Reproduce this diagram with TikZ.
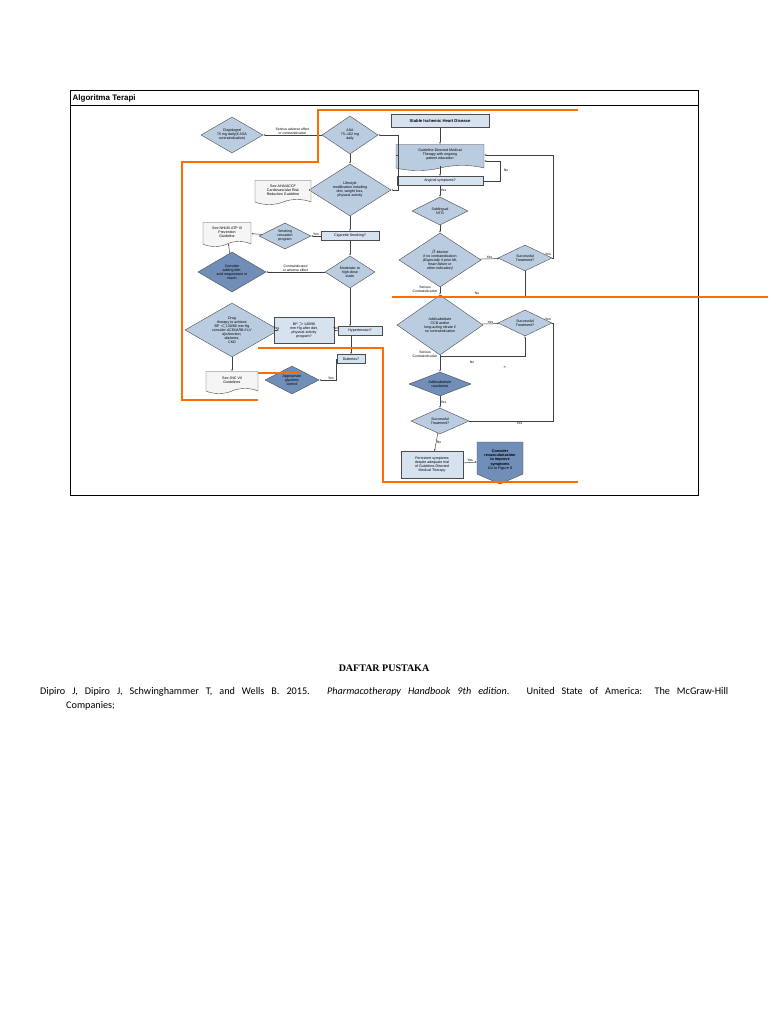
\documentclass[tikz,border=0pt]{standalone}
\usepackage{fontspec}
\setmainfont{Liberation Sans}
\newfontfamily\carl{Carlito}
\newfontfamily\serifb{Liberation Serif}
\usetikzlibrary{shapes.geometric,shapes.symbols,arrows.meta}
\definecolor{lblue}{RGB}{186,204,224}
\definecolor{dblue}{RGB}{112,142,184}
\definecolor{pbox}{RGB}{214,226,240}
\begin{document}
\begin{tikzpicture}[x=1pt,y=-1pt,
  every node/.style={font=\fontsize{3.6}{4}\selectfont,align=center,inner sep=0.5pt},
  dia/.style={diamond,draw=black!70,fill=lblue,line width=0.4pt,aspect=#1,inner sep=0pt},
  dia/.default=1.6,
  ddia/.style={dia=#1,fill=dblue},
  ddia/.default=1.6,
  box/.style={rectangle,draw=black!70,fill=pbox,line width=0.4pt},
  doc/.style={tape,tape bend top=none,draw=black!70,fill=gray!8,line width=0.4pt},
  ln/.style={draw=black!75,line width=0.5pt,-{Latex[length=2pt,width=1.6pt]}},
  pl/.style={draw=black!75,line width=0.5pt},
  lab/.style={font=\fontsize{3.4}{3.8}\selectfont},
  org/.style={draw=orange!85!red,line width=1.1pt}]
\useasboundingbox (0,0) rectangle (768,1024);
\fill[white] (0,0) rectangle (768,1024);
% frame
\draw[line width=0.8pt] (70,90) rectangle (698,495);
\draw[line width=0.8pt] (70,105) -- (698,105);
\node[anchor=west,font=\bfseries\fontsize{8}{9}\selectfont] at (72,98) {Algoritma Terapi};

% nodes
\node[box,font=\bfseries\fontsize{4.2}{5}\selectfont,minimum width=98pt,minimum height=13pt] (sihd) at (440,121) {Stable Ischemic Heart Disease};
\node[doc,minimum width=88pt,minimum height=26pt,fill=lblue] (gdmt) at (440,155) {Guideline-Directed Medical\\Therapy with ongoing\\patient education};
\node[box,minimum width=86pt,minimum height=9pt] (ang) at (440,181) {Anginal symptoms?};
\node[dia=2,minimum width=56pt,minimum height=28pt] (ntg) at (440,211) {Sublingual\\NTG};
\node[dia=1.6,minimum width=82pt,minimum height=54pt] (bb) at (440,260) {$\beta$-blocker\\if no contraindication\\\textit{(Especially if prior MI,}\\\textit{heart failure or}\\\textit{other indication)}};
\node[dia=2.1,minimum width=54pt,minimum height=26pt] (s1) at (525,258) {Successful\\Treatment?};
\node[dia=1.5,minimum width=86pt,minimum height=60pt] (ccb) at (440,325) {Add/substitute\\CCB and/or\\long-acting nitrate if\\no contraindication};
\node[dia=2.1,minimum width=54pt,minimum height=26pt] (s2) at (525,323) {Successful\\Treatment?};
\node[ddia=2.6,minimum width=62pt,minimum height=24pt] (ran) at (440,384) {Add/substitute\\ranolazine};
\node[dia=2.2,minimum width=58pt,minimum height=26pt] (s3) at (440,421) {Successful\\Treatment?};
\node[box,minimum width=62pt,minimum height=27pt] (pers) at (432,465) {Persistent symptoms\\despite adequate trial\\of Guideline-Directed\\Medical Therapy};
\fill[dblue,draw=black!70,line width=0.4pt] (477,442) -- (523,442) -- (523,474) -- (500,484) -- (477,474) -- cycle;
\node[font=\bfseries\fontsize{3.8}{4.3}\selectfont] (rev) at (500,460) {Consider\\revascularization\\to improve\\symptoms\\\mdseries\textit{Go to Figure 8}};
\coordinate (revw) at (477,462);

\node[dia=1.5,minimum width=56pt,minimum height=38pt] (asa) at (350,135) {ASA\\75--162 mg\\daily};
\node[dia=1.8,minimum width=62pt,minimum height=36pt] (clop) at (232,135) {Clopidogrel\\75 mg daily(if ASA\\contraindication)};
\node[dia=1.6,minimum width=82pt,minimum height=52pt] (life) at (350,190) {Lifestyle\\modification including\\diet, weight loss,\\physical activity};
\node[doc,minimum width=56pt,minimum height=24pt] (aha) at (283,190) {See AHA/ACCF\\Cardiovascular Risk\\Reduction Guideline};
\node[box,minimum width=58pt,minimum height=9pt] (cig) at (350,236) {Cigarette Smoking?};
\node[dia=1.9,minimum width=52pt,minimum height=26pt] (smk) at (285,236) {Smoking\\cessation\\program};
\node[doc,minimum width=48pt,minimum height=24pt] (nhl) at (227,232) {See NHLBI ATP III\\Prevention\\Guideline};
\node[dia=1.6,minimum width=50pt,minimum height=32pt] (stat) at (350,272) {Moderate- to\\high-dose\\statin};
\node[ddia=1.7,minimum width=68pt,minimum height=40pt] (bile) at (232,272) {Consider\\adding bile-\\acid sequestrant or\\niacin};
\node[dia=1.7,minimum width=94pt,minimum height=54pt] (drug) at (232,330) {Drug\\therapy to achieve\\BP $<$130/80 mm Hg\\\textit{consider ACEI/ARB if LV}\\\textit{dysfunction,}\\\textit{diabetes,}\\\textit{CKD}};
\node[box,minimum width=60pt,minimum height=26pt] (bp) at (304,330) {BP $>$140/90\\mm Hg after diet,\\physical activity\\program?};
\node[box,minimum width=44pt,minimum height=9pt] (hyp) at (360,331) {Hypertension?};
\node[box,minimum width=28pt,minimum height=9pt] (dia) at (351,359) {Diabetes?};
\node[doc,minimum width=52pt,minimum height=22pt] (jnc) at (232,380) {See JNC VII\\Guidelines};
\node[ddia=1.9,minimum width=54pt,minimum height=28pt] (gly) at (292,380) {Appropriate\\glycemic\\control};

% right side connectors
\draw[ln] (sihd) -- (gdmt);
\draw[ln] (gdmt.south) -- (ang);
\draw[ln] (ang.east) -- (500,181) -- (500,161) -- (gdmt.east |- 0,161);
\node[lab] at (506,170) {No};
\draw[ln] (ang) -- node[lab,right,pos=0.4]{Yes} (ntg);
\draw[ln] (ntg) -- (bb);
\draw[ln] (bb) -- node[lab,above]{Yes} (s1);
\draw[ln] (s1.east) -- (553,258) -- (553,155) -- (gdmt.east |- 0,155);
\node[lab] at (548,254) {Yes};
\draw[ln] (s1.south) -- (525,296) -- (440,296);
\node[lab] at (477,293.5) {No};
\node[lab,anchor=east] at (438,289) {Serious\\Contraindication};
\draw[ln] (bb) -- (ccb);
\draw[ln] (ccb) -- node[lab,above]{Yes} (s2);
\draw[pl] (s2.east) -- (553,323);
\node[lab] at (548,319) {Yes};
\draw[ln] (440,356) -- (525,356) -- (s2.south);
\node[lab] at (472,362) {No};
\node[lab,anchor=east] at (438,354) {Serious\\Contraindication};
\draw[ln] (ccb) -- (ran);
\draw[ln] (ran) -- node[lab,right]{Yes} (s3);
\draw[pl] (s3.east) -- node[lab,below,pos=0.6]{Yes} (553,421) -- (553,323);
\draw[ln] (s3) -- node[lab,right]{No} (pers);
\draw[ln] (pers) -- node[lab,above]{Yes} (revw);
\node[text=red,font=\fontsize{5}{5}\selectfont] (star) at (505,367) {$\ast$};

% left side connectors
\draw[pl] (gdmt.west) -- (398,155);
\draw[ln] (398,135) -- (asa.east);
\draw[ln] (398,135) -- (398,190) -- (life.east);
\draw[ln] (asa) -- node[lab,above]{Serious adverse effect\\or contraindication} (clop);
\draw[ln] (asa) -- (life);
\draw[ln] (life) -- (aha);
\draw[ln] (life) -- (cig);
\draw[ln] (cig) -- node[lab,above]{Yes} (smk);
\draw[ln] (smk) -- (nhl);
\draw[ln] (cig) -- (stat);
\draw[ln] (stat) -- node[lab,above]{Contraindicated\\or adverse effect} (bile);
\draw[ln] (bile) -- (nhl);
\draw[ln] (stat.south) -- (stat.south |- hyp.north);
\draw[ln] (hyp) -- node[lab,above]{Yes} (bp);
\draw[ln] (bp) -- node[lab,above]{Yes} (drug);
\draw[ln] (drug) -- (jnc);
\draw[ln] (hyp.south -| dia) -- (dia);
\draw[ln] (dia.west) -- (336,359) -- (336,380) -- node[lab,above,pos=0.3]{Yes} (gly.east);

% orange overlay lines
\draw[org] (578,110) -- (318,110) -- (318,162) -- (182,162) -- (182,400) -- (258,400);
\draw[org] (392,297) -- (768,297);
\draw[org] (258,348) -- (383,348) -- (383,482) -- (578,482);
\draw[org] (258,373) -- (300,373);

% references
\node[font=\serifb\bfseries\fontsize{10}{12}\selectfont] at (384,668) {DAFTAR PUSTAKA};
\node[anchor=base west,text width=688pt,align=justify,font=\carl\fontsize{10.2}{14}\selectfont,inner sep=0pt] at (40,694.5) {Dipiro J, Dipiro J, Schwinghammer T, and Wells B. 2015. \textit{Pharmacotherapy Handbook 9th edition}. United State of America: The McGraw-Hill\linebreak};
\node[anchor=base west,font=\carl\fontsize{10.2}{14}\selectfont,inner sep=0pt] at (66,708.5) {Companies;};
\end{tikzpicture}
\end{document}
